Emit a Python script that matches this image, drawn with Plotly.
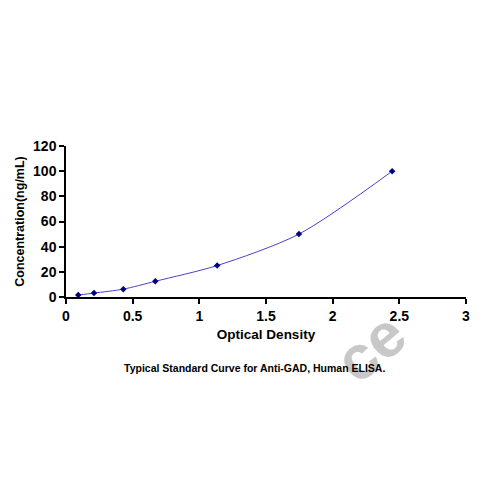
import plotly.graph_objects as go

od = [0.092, 0.21, 0.43, 0.67, 1.134, 1.747, 2.446]
conc = [1.5625, 3.125, 6.25, 12.5, 25, 50, 100]
x_ticks = [0, 0.5, 1, 1.5, 2, 2.5, 3]
x_tick_labels = ["0", "0.5", "1", "1.5", "2", "2.5", "3"]
y_ticks = [0, 20, 40, 60, 80, 100, 120]

FONT = "Liberation Sans, Arial, sans-serif"

fig = go.Figure()
fig.add_trace(go.Scatter(
    x=od, y=conc, mode="lines",
    line=dict(color="#4a3fd0", width=1, shape="spline", smoothing=0.8),
    showlegend=False, hoverinfo="skip"))
fig.add_trace(go.Scatter(
    x=od, y=conc, mode="markers",
    marker=dict(symbol="diamond", size=5, color="#000080"),
    showlegend=False))

fig.update_layout(
    width=500, height=500,
    margin=dict(l=66, r=34, t=146, b=203),
    paper_bgcolor="white", plot_bgcolor="white",
    font=dict(family=FONT, color="black"),
    xaxis=dict(range=[0, 3], tickvals=x_ticks, ticktext=x_tick_labels,
               showgrid=False, zeroline=False, showline=True,
               linecolor="black", linewidth=1.5, ticks="outside",
               ticklen=5, tickcolor="black", tickwidth=1.5,
               tickfont=dict(size=14, family=FONT, weight="bold"),
               title=dict(text="<b>Optical Density</b>", font=dict(size=13.5, family=FONT),
                          standoff=7)),
    yaxis=dict(range=[0, 120], tickvals=y_ticks,
               showgrid=False, zeroline=False, showline=True,
               linecolor="black", linewidth=1.5, ticks="outside",
               ticklen=5, tickcolor="black", tickwidth=1.5,
               tickfont=dict(size=14, family=FONT, weight="bold"),
               title=dict(text="<b>Concentration(ng/mL)</b>", font=dict(size=12.5, family=FONT),
                          standoff=6)),
)

fig.add_annotation(
    text="<b>ce</b>", xref="paper", yref="paper", x=0.76, y=-0.335,
    xanchor="center", yanchor="middle",
    showarrow=False, textangle=-40,
    font=dict(size=62, family=FONT, color="#c8c8c8"))

fig.add_annotation(
    text="<b>Typical Standard Curve for Anti-GAD, Human ELISA.</b>",
    xref="paper", yref="paper", x=0.47, y=-0.47, xanchor="center", yanchor="middle",
    showarrow=False, font=dict(size=10.5, family=FONT, color="black"))

fig.write_html("out.html")
